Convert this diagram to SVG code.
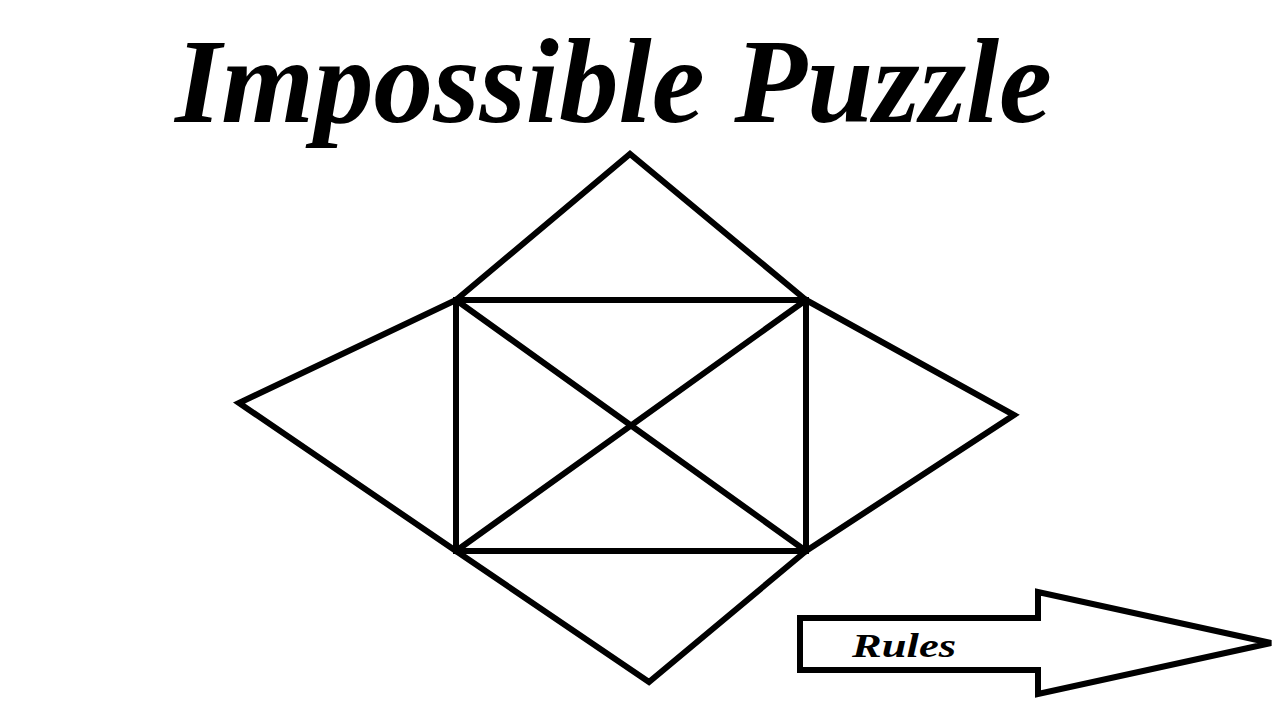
<svg xmlns="http://www.w3.org/2000/svg" width="1280" height="720" viewBox="0 0 1280 720">
  <style>
    .ln { fill: none; stroke: #000; stroke-width: 6; stroke-linejoin: miter; stroke-linecap: round; }
    .script { font-family: "Liberation Serif", "DejaVu Serif", serif; font-style: italic; font-weight: bold; fill: #000; }
  </style>
  <rect x="0" y="0" width="1280" height="720" fill="#fff"/>
  <g id="title">
    <text class="script" x="175" y="122" font-size="120" textLength="877" lengthAdjust="spacingAndGlyphs">Impossible Puzzle</text>
  </g>
  <g id="puzzle">
    <rect class="ln" x="456" y="300" width="350" height="251"/>
    <polyline class="ln" points="456,300 630,154 806,300"/>
    <polyline class="ln" points="456,300 239,403 456,551"/>
    <polyline class="ln" points="806,300 1014,415 806,551"/>
    <polyline class="ln" points="456,551 649,682 806,551"/>
  </g>
  <g id="connectors">
    <line class="ln" x1="456" y1="300" x2="806" y2="551"/>
    <line class="ln" x1="806" y1="300" x2="456" y2="551"/>
  </g>
  <g id="rules-arrow">
    <polygon class="ln" points="800,618 1038,618 1038,592 1271,643 1038,694 1038,670 800,670"/>
    <text class="script" x="852" y="657" font-size="34" textLength="104" lengthAdjust="spacingAndGlyphs">Rules</text>
  </g>
</svg>
